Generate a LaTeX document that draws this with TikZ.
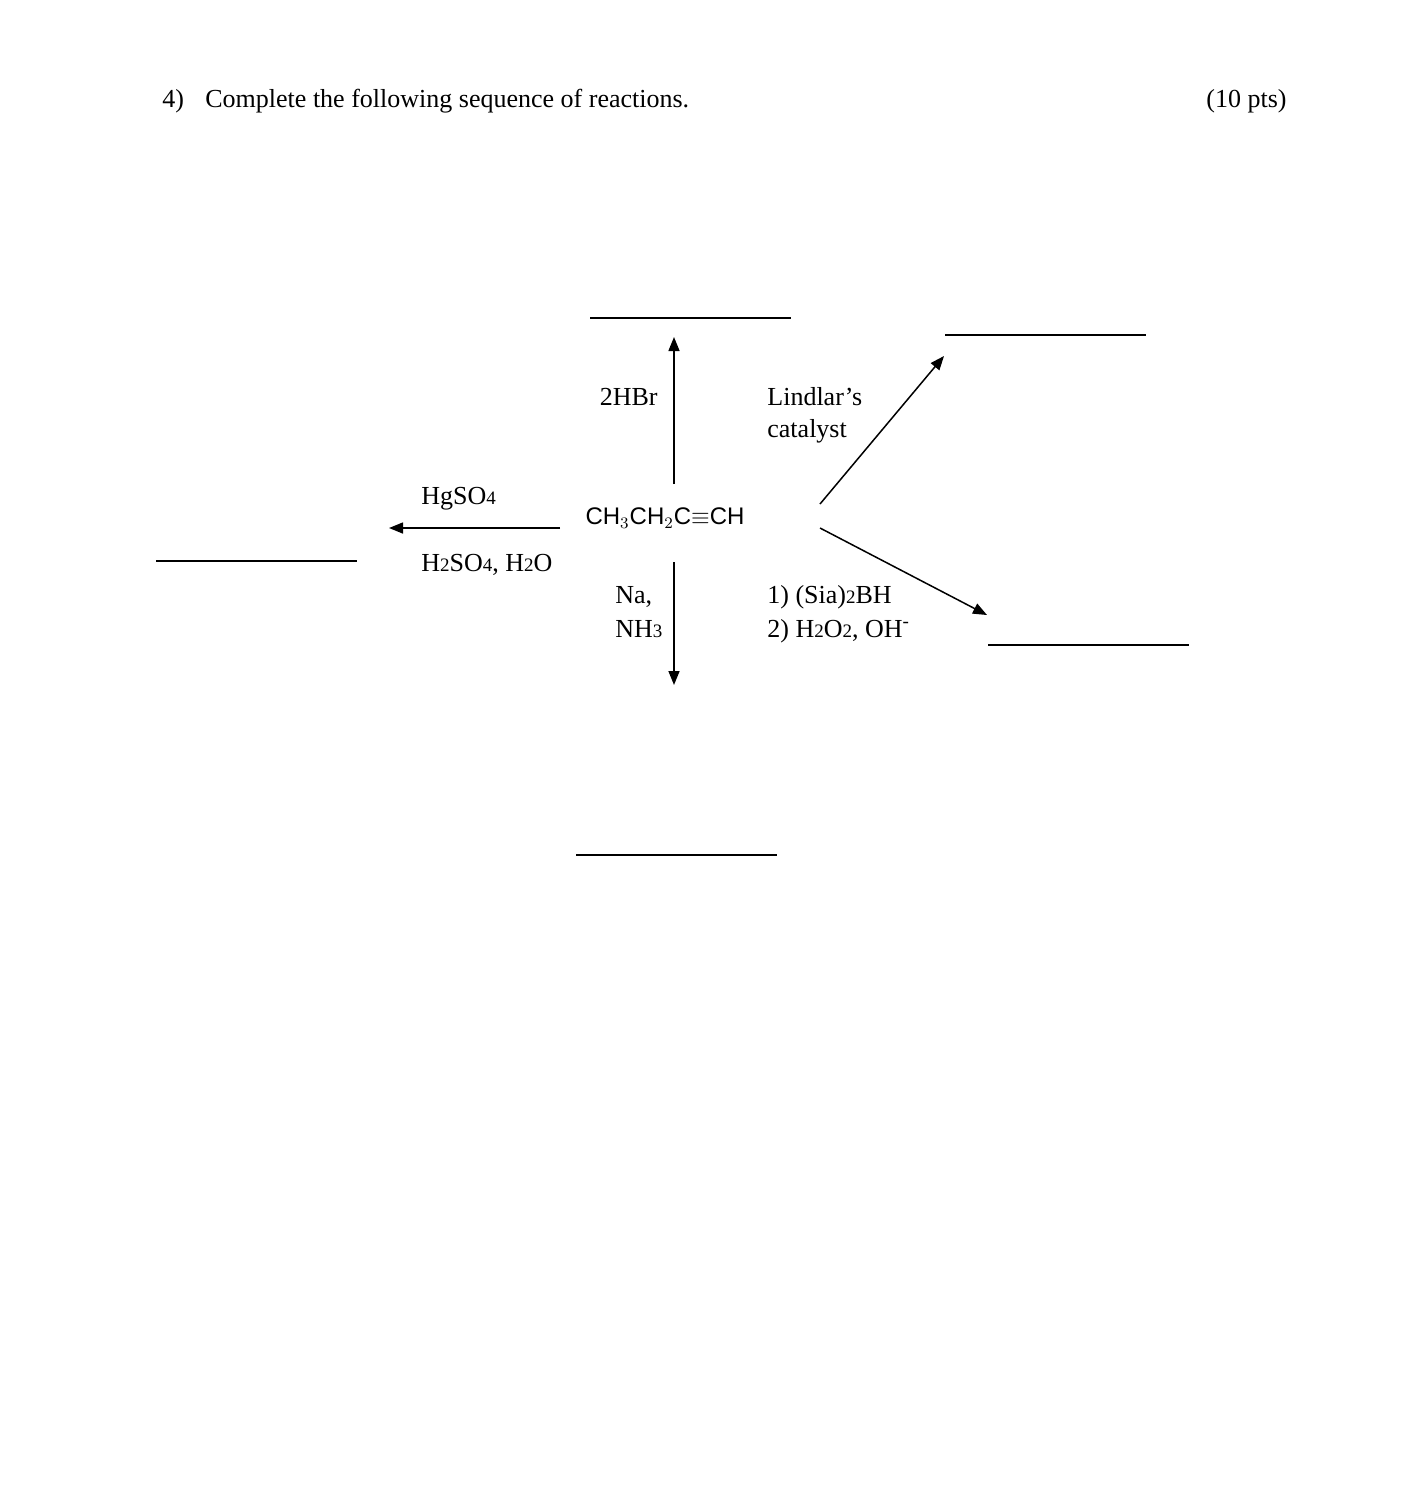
\documentclass[tikz,border=0pt]{standalone}
\usepackage{fontspec}
\setmainfont{Liberation Serif}
\setsansfont{Liberation Sans}
\usetikzlibrary{arrows.meta}
\newcommand{\sm}[1]{{\fontsize{9.5}{10}\selectfont #1}}
\begin{document}
\begin{tikzpicture}[x=0.5pt,y=-0.5pt,
  txt/.style={font=\fontsize{13}{16}\selectfont,inner sep=0pt},
  blank/.style={line width=0.75pt},
  rxn/.style={line width=0.75pt,-{Triangle[length=7pt,width=5.5pt]}}]
\useasboundingbox (0,0) rectangle (1408,1490);
\node[txt,anchor=base west] (num) at (162,107) {4)};
\node[txt,anchor=base west] (title) at (205,107) {Complete the following sequence of reactions.};
\node[txt,anchor=base east] (pts) at (1287,107) {(10 pts)};
% blanks
\coordinate (b1a) at (590,318); \coordinate (b1b) at (791,318);
\coordinate (b2a) at (945,335); \coordinate (b2b) at (1146,335);
\coordinate (b3a) at (156,561); \coordinate (b3b) at (357,561);
\coordinate (b4a) at (988,645); \coordinate (b4b) at (1189,645);
\coordinate (b5a) at (576,855); \coordinate (b5b) at (777,855);
\foreach \i in {1,...,5} \draw[blank] (b\i a) -- (b\i b);
% center
\node[inner sep=0pt,font=\sffamily\fontsize{12}{14}\selectfont] (sm) at (665,518) {CH$_3$CH$_2$C$\equiv$CH};
\coordinate (upS) at (674,484); \coordinate (upE) at (674,337);
\coordinate (dnS) at (674,562); \coordinate (dnE) at (674,685);
\coordinate (lfS) at (560,528); \coordinate (lfE) at (389,528);
\coordinate (urS) at (820,504); \coordinate (urE) at (944,356);
\coordinate (lrS) at (820,528); \coordinate (lrE) at (987,615);
\draw[rxn] (upS) -- (upE);
\draw[rxn] (dnS) -- (dnE);
\draw[rxn] (lfS) -- (lfE);
\draw[rxn] (urS) -- (urE);
\draw[rxn] (lrS) -- (lrE);
% labels
\node[txt,anchor=base east] (hbr) at (658,405) {2HBr};
\node[txt,anchor=base west] (l1) at (767,405) {Lindlar’s};
\node[txt,anchor=base west] (l2) at (767,437) {catalyst};
\node[txt,anchor=base west] (hg) at (421,504) {HgSO\sm{4}};
\node[txt,anchor=base west] (h2) at (421,571) {H\sm{2}SO\sm{4}, H\sm{2}O};
\node[txt,anchor=base west] (na) at (615,603) {Na,};
\node[txt,anchor=base west] (nh) at (615,637) {NH\sm{3}};
\node[txt,anchor=base west] (s1) at (767,603) {1) (Sia)\sm{2}BH};
\node[txt,anchor=base west] (s2) at (767,637) {2) H\sm{2}O\sm{2}, OH\raisebox{5pt}{\sm{-}}};
\end{tikzpicture}
\end{document}
